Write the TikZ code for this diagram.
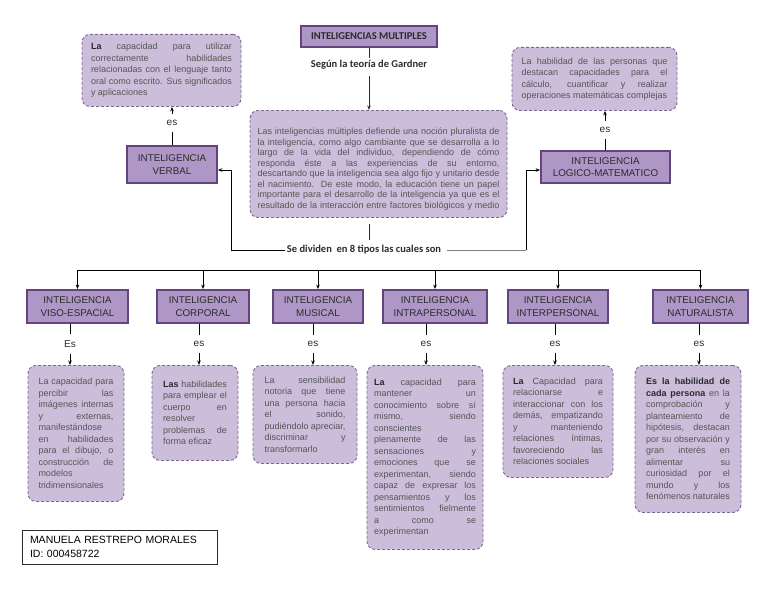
\documentclass[tikz,border=0pt]{standalone}
\usepackage{fontspec}
\setmainfont{Liberation Sans}
\newfontfamily\calibri{Carlito}
\usepackage{xcolor}
\usetikzlibrary{positioning,calc,arrows.meta}

\definecolor{lila}{HTML}{AE97C6}
\definecolor{lilaborde}{HTML}{61457C}
\definecolor{lilaclaro}{HTML}{CCBEDA}
\definecolor{lilaraya}{HTML}{7C6892}
\definecolor{textogris}{HTML}{555555}
\definecolor{textoosc}{HTML}{2B2B2B}
\newcommand{\resalta}[1]{\textbf{\color{textoosc}#1}}
\pretolerance=10000
\tolerance=10000
\hyphenpenalty=10000

\begin{document}
\begin{tikzpicture}[x=1pt,y=-1pt,
    >={Stealth[length=4.5pt,width=3.5pt]},
    tipo/.style={draw=lilaborde,line width=1.8pt,fill=lila,text=textoosc,align=center,inner sep=0pt,font=\fontsize{9.8}{12.5}\selectfont},
    nota/.style={draw=lilaraya,line width=0.9pt,dash pattern=on 3pt off 2pt,rounded corners=8pt,fill=lilaclaro,text=textogris,align=justify,inner sep=0pt,anchor=north,font=\fontsize{9}{11.5}\selectfont},
    eslab/.style={inner xsep=2pt,inner ysep=6pt,font=\fontsize{10}{12}\selectfont,text=textoosc},
    enlace/.style={font=\calibri\bfseries\fontsize{10.5}{12}\selectfont,text=textoosc,inner sep=2pt}]
    \useasboundingbox (0,0) rectangle (768,594);

    % titulo y teoria
    \node[tipo,minimum width=136pt,minimum height=21pt,font=\calibri\bfseries\fontsize{10.5}{12}\selectfont] (titulo) at (369,36.5) {INTELIGENCIAS MULTIPLES};
    \node[enlace] (gardner) at (369,65) {Según la teoría de Gardner};
    \node[nota,minimum width=257pt,minimum height=107pt,text width=242pt,font=\fontsize{9}{10.5}\selectfont] (teoria) at (378.5,110) {\parfillskip=0pt\rule{0pt}{17pt}%
        Las inteligencias múltiples defiende una noción pluralista de\linebreak
        la inteligencia, como algo cambiante que se desarrolla a lo\linebreak
        largo de la vida del individuo, dependiendo de cómo\linebreak
        responda éste a las experiencias de su entorno,\linebreak
        descartando que la inteligencia sea algo fijo y unitario desde\linebreak
        el nacimiento. De este modo, la educación tiene un papel\linebreak
        importante para el desarrollo de la inteligencia ya que es el\linebreak
        resultado de la interacción entre factores biológicos y medio\par};
    \node[enlace] (divide) at (364,250) {Se dividen\ \ en 8 tipos las cuales son};

    % verbal y logico
    \node[tipo,minimum width=90pt,minimum height=37pt] (verbal) at (172,164.5) {INTELIGENCIA\\VERBAL};
    \node[nota,minimum width=159pt,minimum height=72pt,text width=141pt] (dverbal) at (161.5,34) {\resalta{La} capacidad para utilizar\linebreak
        correctamente habilidades\linebreak
        relacionadas con el lenguaje tanto\linebreak
        oral como escrito. Sus significados\linebreak
        y aplicaciones};
    \node[eslab] (esverbal) at (172,123) {es};

    \node[tipo,minimum width=129pt,minimum height=32pt] (logico) at (605.5,167) {INTELIGENCIA\\LOGICO-MATEMATICO};
    \node[nota,minimum width=165pt,minimum height=63pt,text width=146pt] (dlogico) at (594.5,47) {La habilidad de las personas que\linebreak
        destacan capacidades para el\linebreak
        cálculo, cuantificar y realizar\linebreak
        operaciones matemáticas complejas};
    \node[eslab] (eslogico) at (605,130) {es};

    % los seis tipos de abajo
    \node[tipo,minimum width=101pt,minimum height=33pt] (viso) at (77.5,306.5) {INTELIGENCIA\\VISO-ESPACIAL};
    \node[tipo,minimum width=92pt,minimum height=33pt] (corporal) at (203,306.5) {INTELIGENCIA\\CORPORAL};
    \node[tipo,minimum width=90pt,minimum height=33pt] (musical) at (318,306.5) {INTELIGENCIA\\MUSICAL};
    \node[tipo,minimum width=104pt,minimum height=33pt] (intra) at (435,306.5) {INTELIGENCIA\\INTRAPERSONAL};
    \node[tipo,minimum width=100pt,minimum height=33pt] (inter) at (558,306.5) {INTELIGENCIA\\INTERPERSONAL};
    \node[tipo,minimum width=95pt,minimum height=33pt] (natural) at (700.5,306.5) {INTELIGENCIA\\NATURALISTA};

    \node[nota,minimum width=96pt,minimum height=136pt,text width=75pt] (dviso) at (76,365) {La capacidad para\linebreak
        percibir las\linebreak
        imágenes internas\linebreak
        y externas,\linebreak
        manifestándose\linebreak
        en habilidades\linebreak
        para el dibujo, o\linebreak
        construcción de\linebreak
        modelos\linebreak
        tridimensionales};
    \node[nota,minimum width=86pt,minimum height=95pt,text width=64pt] (dcorporal) at (195,365) {\resalta{Las} habilidades\linebreak
        para emplear el\linebreak
        cuerpo en\linebreak
        resolver\linebreak
        problemas de\linebreak
        forma eficaz};
    \node[nota,minimum width=104pt,minimum height=98pt,text width=81pt] (dmusical) at (305,365) {La sensibilidad\linebreak
        notoria que tiene\linebreak
        una persona hacia\linebreak
        el sonido,\linebreak
        pudiéndolo apreciar,\linebreak
        discriminar y\linebreak
        transformarlo};
    \node[nota,minimum width=116pt,minimum height=184pt,text width=102pt] (dintra) at (425,365) {\resalta{La} capacidad para\linebreak
        mantener un\linebreak
        conocimiento sobre sí\linebreak
        mismo, siendo\linebreak
        conscientes\linebreak
        plenamente de las\linebreak
        sensaciones y\linebreak
        emociones que se\linebreak
        experimentan, siendo\linebreak
        capaz de expresar los\linebreak
        pensamientos y los\linebreak
        sentimientos fielmente\linebreak
        a como se\linebreak
        experimentan};
    \node[nota,minimum width=110pt,minimum height=112pt,text width=90pt] (dinter) at (558,365) {\resalta{La} Capacidad para\linebreak
        relacionarse e\linebreak
        interaccionar con los\linebreak
        demás, empatizando\linebreak
        y manteniendo\linebreak
        relaciones íntimas,\linebreak
        favoreciendo las\linebreak
        relaciones sociales};
    \node[nota,minimum width=106pt,minimum height=147pt,text width=84pt] (dnatural) at (688,365) {\resalta{Es la habilidad de}\linebreak
        \resalta{cada persona} en la\linebreak
        comprobación y\linebreak
        planteamiento de\linebreak
        hipótesis, destacan\linebreak
        por su observación y\linebreak
        gran interés en\linebreak
        alimentar su\linebreak
        curiosidad por el\linebreak
        mundo y los\linebreak
        fenómenos naturales};

    % autor
    \node[draw=textoosc,line width=0.8pt,minimum width=195pt,minimum height=34pt,text width=179pt,align=left,inner sep=0pt,font=\fontsize{10.5}{14.5}\selectfont] (autor) at (119.5,547) {MANUELA RESTREPO MORALES\\ID: 000458722};

    % flechas de arriba
    \draw[textoosc,line width=0.8pt] (titulo) -- (gardner);
    \draw[->,textoosc,line width=0.8pt,shorten <=4pt] (gardner) -- (gardner |- teoria.north);
    \draw[textoosc,line width=0.8pt,shorten <=6pt,shorten >=3pt] (gardner |- teoria.south) -- (gardner |- divide.north);

    \coordinate (codoizq) at (231,251);
    \coordinate (cododer) at (526,251);
    \draw[->,line width=0.8pt] (divide.west) -- (divide.west -| codoizq) |- ([yshift=-5.5pt]verbal.east);
    \draw[gray,line width=0.8pt,shorten <=4pt] (divide.east) -- (divide.east -| cododer);
    \draw[->,line width=0.8pt] (divide.east -| cododer) |- ([yshift=-3pt]logico.west);

    \draw[line width=0.8pt] (verbal) -- (esverbal);
    \draw[->,line width=0.8pt] (esverbal) -- (esverbal |- dverbal.south);
    \draw[line width=0.8pt] (logico.north -| eslogico) -- (eslogico);
    \draw[->,line width=0.8pt] (eslogico) -- (eslogico |- dlogico.south);

    % barra y ramas
    \coordinate (barra) at (0,270);
    \draw[line width=0.8pt] (viso.north |- barra) -- (natural.north |- barra);
    \foreach \n in {viso,corporal,musical,intra,inter,natural}
        \draw[->,line width=0.8pt] (\n.north |- barra) -- (\n.north);
    \foreach \n/\x/\e in {viso/70/Es,corporal/199/es,musical/313/es,intra/426/es,inter/555/es,natural/699/es} {
        \node[eslab] (es\n) at (\x,344) {\e};
        \draw[line width=0.8pt] (\n.south -| es\n) -- (es\n);
        \draw[->,line width=0.8pt] (es\n) -- (es\n |- d\n.north);
    }
\end{tikzpicture}
\end{document}
